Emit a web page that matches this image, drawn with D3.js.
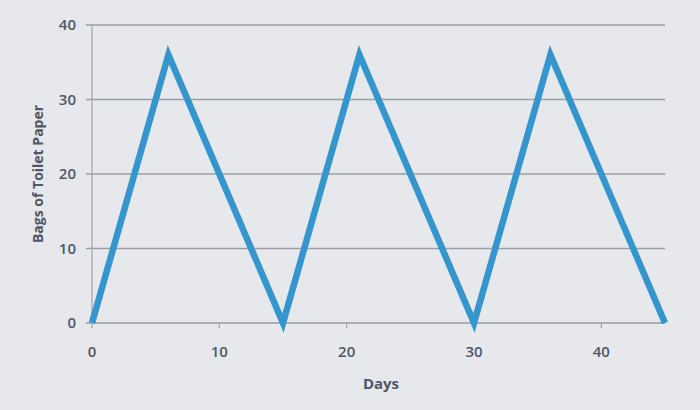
<!DOCTYPE html>
<html lang="en">
<head>
<meta charset="UTF-8">
<title>Toilet paper</title>
<script src="https://d3js.org/d3.v7.min.js"></script>
<style>
  body { margin: 0; background: #e6e8ec; }
  svg { display: block; }
  text { font-family: "Open Sans", Lato, sans-serif; fill: #4f5866; }
</style>
</head>
<body>
<script>
  // values
  var days = [0, 6, 15, 21, 30, 36, 45];
  var bags = [0, 36, 0, 36, 0, 36, 0];
  var xTicks = [0, 10, 20, 30, 40];
  var yTicks = [0, 10, 20, 30, 40];

  var width = 700, height = 410;
  var margin = { left: 92, right: 35, top: 25, bottom: 87 };

  var svg = d3.select("body").append("svg")
    .attr("width", width)
    .attr("height", height);

  svg.append("rect")
    .attr("width", width).attr("height", height)
    .attr("fill", "#e6e8ec");

  var x = d3.scaleLinear().domain([0, 45]).range([margin.left, width - margin.right]);
  var y = d3.scaleLinear().domain([0, 40]).range([height - margin.bottom, margin.top]);

  // grid lines
  svg.append("g")
    .selectAll("line")
    .data(yTicks)
    .enter().append("line")
    .attr("x1", margin.left - 6)
    .attr("x2", width - margin.right)
    .attr("y1", d => y(d))
    .attr("y2", d => y(d))
    .attr("stroke", "#9a9ea6")
    .attr("stroke-width", 1.3);

  // y axis line
  svg.append("line")
    .attr("x1", margin.left).attr("x2", margin.left)
    .attr("y1", y(40)).attr("y2", y(0))
    .attr("stroke", "#a4a8b0").attr("stroke-width", 1.3);

  // x ticks
  svg.append("g")
    .selectAll("line")
    .data(xTicks)
    .enter().append("line")
    .attr("x1", d => x(d)).attr("x2", d => x(d))
    .attr("y1", y(0)).attr("y2", y(0) + 5)
    .attr("stroke", "#a4a8b0").attr("stroke-width", 1.3);

  svg.append("g")
    .selectAll("text")
    .data(xTicks)
    .enter().append("text")
    .attr("x", d => x(d))
    .attr("y", y(0) + 34)
    .attr("text-anchor", "middle")
    .style("font-size", "15px")
    .style("font-weight", "600")
    .text(d => d);

  svg.append("g")
    .selectAll("text")
    .data(yTicks)
    .enter().append("text")
    .attr("x", margin.left - 16)
    .attr("y", d => y(d) + 5)
    .attr("text-anchor", "end")
    .style("font-size", "15px")
    .style("font-weight", "600")
    .text(d => d);

  // line
  var line = d3.line()
    .x((d, i) => x(days[i]))
    .y(d => y(d));

  svg.append("path")
    .datum(bags)
    .attr("d", line)
    .attr("fill", "none")
    .attr("stroke", "#3596cd")
    .attr("stroke-width", 6.5)
    .attr("stroke-linejoin", "miter");

  // axis titles
  svg.append("text")
    .attr("x", 381).attr("y", 389)
    .attr("text-anchor", "middle")
    .style("font-size", "15px")
    .style("font-weight", "bold")
    .text("Days");

  svg.append("text")
    .attr("transform", "translate(43," + y(20) + ") rotate(-90)")
    .attr("text-anchor", "middle")
    .style("font-size", "14px")
    .style("font-weight", "bold")
    .text("Bags of Toilet Paper");
</script>
</body>
</html>
